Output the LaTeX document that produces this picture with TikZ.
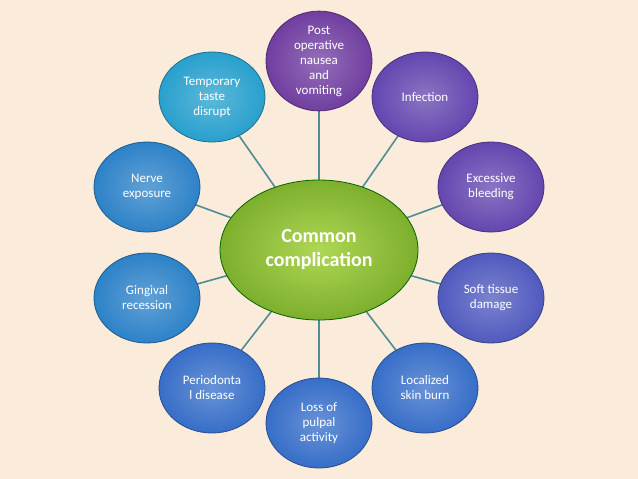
\documentclass[tikz,border=0pt]{standalone}
\usepackage{fontspec}
\setmainfont{Carlito}
\usetikzlibrary{shapes.geometric,backgrounds}
\definecolor{bg}{RGB}{250,235,218}
\definecolor{lnk}{RGB}{80,140,150}
\definecolor{gin}{RGB}{175,215,85}
\definecolor{gout}{RGB}{125,175,45}
\definecolor{cpur}{RGB}{112,62,160}
\definecolor{cpur2}{RGB}{100,70,175}
\definecolor{cblp}{RGB}{80,90,190}
\definecolor{cblu}{RGB}{55,110,200}
\definecolor{cbl2}{RGB}{45,130,200}
\definecolor{ccy}{RGB}{40,160,205}
\begin{document}
\begin{tikzpicture}[x=1pt,y=-1pt,
 sat/.style={ellipse,minimum width=106pt,minimum height=90pt,draw=#1!70!black,line width=0.8pt,
   inner color=#1!75!white,outer color=#1,text=white,font=\fontsize{13}{15}\selectfont,align=center,inner sep=0pt},
 link/.style={draw=lnk,line width=1.6pt}]
\node[ellipse,minimum width=198pt,minimum height=140pt,draw=green!40!black,line width=0.8pt,
 inner color=gin,outer color=gout,
 text=white,font=\bfseries\fontsize{20}{24}\selectfont,align=center] (c) at (319,250) {Common\\complication};
\node[sat=cpur] (a1) at (319,61) {Post\\operative\\nausea\\and\\vomiting};
\node[sat=cpur2] (a2) at (425,97) {Infection};
\node[sat=cpur2] (a3) at (491,187) {Excessive\\bleeding};
\node[sat=cblp] (a4) at (491,298) {Soft tissue\\damage};
\node[sat=cblu] (a5) at (425,388) {Localized\\skin burn};
\node[sat=cblu] (a6) at (319,423) {Loss of\\pulpal\\activity};
\node[sat=cblu] (a7) at (212,388) {Periodonta\\l disease};
\node[sat=cbl2] (a8) at (147,298) {Gingival\\recession};
\node[sat=cbl2] (a9) at (147,187) {Nerve\\exposure};
\node[sat=ccy] (a10) at (212,97) {Temporary\\taste\\disrupt};
\begin{scope}[on background layer]
\fill[bg] (0,0) rectangle (638,479);
\foreach \i in {1,...,10}{\draw[link] (c.center) -- (a\i.center);}
\end{scope}
\useasboundingbox (0,0) rectangle (638,479);
\end{tikzpicture}
\end{document}
